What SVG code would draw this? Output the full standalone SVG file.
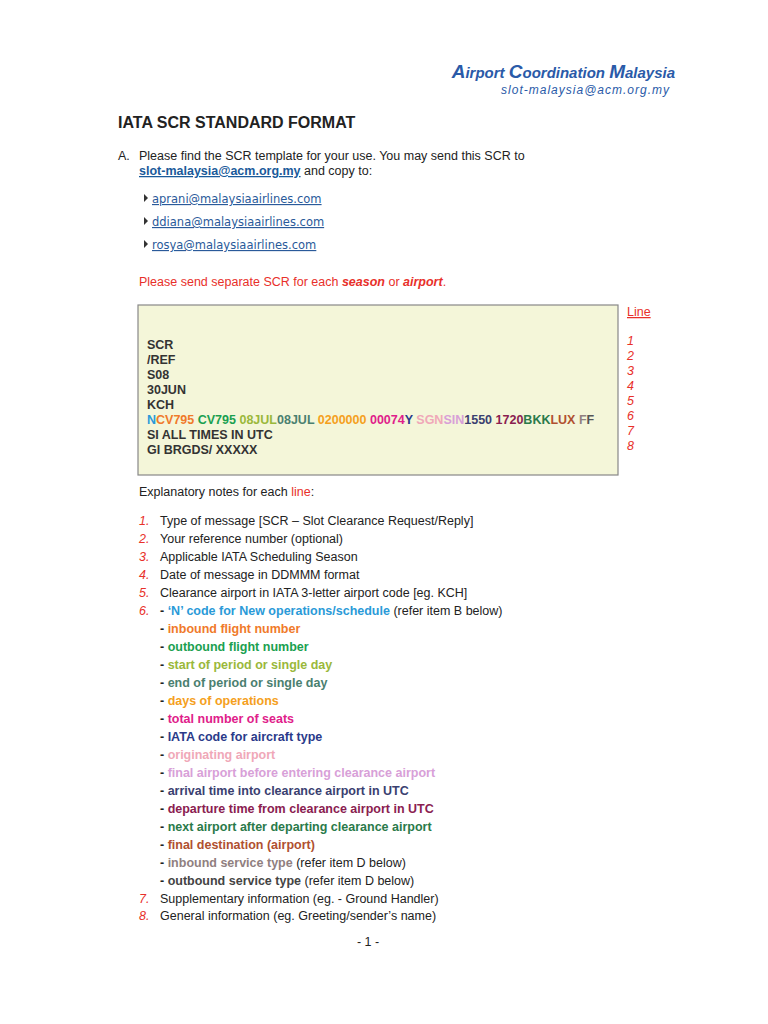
<svg xmlns="http://www.w3.org/2000/svg" width="768" height="1024" viewBox="0 0 768 1024">
<style>
text{font-family:"Liberation Sans",Arial,sans-serif;font-size:12.5px;fill:#222}
.b{font-weight:bold}
.r{fill:#e8302a}
.ri{fill:#e8302a;font-style:italic}
.link{fill:#1a5a9a;text-decoration:underline}
.mono{font-family:"DejaVu Sans",sans-serif;font-size:11.5px;fill:#2a5a9a;text-decoration:underline}
.box text{font-weight:bold;fill:#333}
</style>
<rect width="768" height="1024" fill="#fff"/>
<g id="header">
<text x="675" y="78" text-anchor="end" style="font-size:15px;font-style:italic;font-weight:bold;fill:#2a5aa8"><tspan style="font-size:19px">A</tspan>irport <tspan style="font-size:19px">C</tspan>oordination <tspan style="font-size:19px">M</tspan>alaysia</text>
<text x="670" y="94" text-anchor="end" style="font-size:12px;font-style:italic;fill:#2a5aa8;letter-spacing:1px">slot-malaysia@acm.org.my</text>
</g>
<text x="118" y="128" class="b" style="font-size:16px">IATA SCR STANDARD FORMAT</text>
<text x="118" y="160">A.</text>
<text x="139" y="160">Please find the SCR template for your use. You may send this SCR to</text>
<text x="139" y="175"><tspan class="b link">slot-malaysia@acm.org.my</tspan> and copy to:</text>
<g id="emails">
<path d="M144 194l4 4-4 4z M144 217l4 4-4 4z M144 240l4 4-4 4z" fill="#333"/>
<text x="152" y="203" class="mono">aprani@malaysiaairlines.com</text>
<text x="152" y="226" class="mono">ddiana@malaysiaairlines.com</text>
<text x="152" y="249" class="mono">rosya@malaysiaairlines.com</text>
</g>
<text x="139" y="286" class="r">Please send separate SCR for each <tspan class="b" style="font-style:italic;fill:#e8302a">season</tspan> or <tspan class="b" style="font-style:italic;fill:#e8302a">airport</tspan>.</text>
<g id="scr-box" class="box">
<rect x="138" y="305" width="480" height="170" fill="#f4f6d9" stroke="#888" stroke-width="1.2"/>
<text x="147" y="349">SCR</text>
<text x="147" y="364">/REF</text>
<text x="147" y="379">S08</text>
<text x="147" y="394">30JUN</text>
<text x="147" y="409">KCH</text>
<text x="147" y="424"><tspan style="fill:#2a9ad8">N</tspan><tspan style="fill:#f07a2a">CV795</tspan> <tspan style="fill:#1aa050">CV795</tspan> <tspan style="fill:#9ab83a">08JUL</tspan><tspan style="fill:#4a8070">08JUL</tspan> <tspan style="fill:#f5a020">0200000</tspan> <tspan style="fill:#e0208a">00074</tspan><tspan style="fill:#2a3a8a">Y</tspan> <tspan style="fill:#f0a8b8">SGN</tspan><tspan style="fill:#d8a0d8">SIN</tspan><tspan style="fill:#3a4070">1550</tspan> <tspan style="fill:#8a2050">1720</tspan><tspan style="fill:#2a7a4a">BKK</tspan><tspan style="fill:#b05030">LUX</tspan> <tspan style="fill:#908080">F</tspan><tspan style="fill:#555">F</tspan></text>
<text x="147" y="439">SI ALL TIMES IN UTC</text>
<text x="147" y="454">GI BRGDS/ XXXXX</text>
</g>
<g id="line-numbers">
<text x="627" y="316" class="r" style="text-decoration:underline">Line</text>
<text x="627" y="345" class="ri">1</text>
<text x="627" y="360" class="ri">2</text>
<text x="627" y="375" class="ri">3</text>
<text x="627" y="390" class="ri">4</text>
<text x="627" y="405" class="ri">5</text>
<text x="627" y="420" class="ri">6</text>
<text x="627" y="435" class="ri">7</text>
<text x="627" y="450" class="ri">8</text>
</g>
<text x="139" y="496">Explanatory notes for each <tspan class="r">line</tspan>:</text>
<g id="notes">
<text x="139" y="525" class="ri">1.</text><text x="160" y="525">Type of message [SCR – Slot Clearance Request/Reply]</text>
<text x="139" y="543" class="ri">2.</text><text x="160" y="543">Your reference number (optional)</text>
<text x="139" y="561" class="ri">3.</text><text x="160" y="561">Applicable IATA Scheduling Season</text>
<text x="139" y="579" class="ri">4.</text><text x="160" y="579">Date of message in DDMMM format</text>
<text x="139" y="597" class="ri">5.</text><text x="160" y="597">Clearance airport in IATA 3-letter airport code [eg. KCH]</text>
<text x="139" y="615" class="ri">6.</text><text x="160" y="615" class="b">- <tspan style="fill:#2a9ad8">‘N’ code for New operations/schedule</tspan> <tspan style="font-weight:normal">(refer item B below)</tspan></text>
<text x="160" y="633" class="b">- <tspan style="fill:#f07a2a">inbound flight number</tspan></text>
<text x="160" y="651" class="b">- <tspan style="fill:#1aa050">outbound flight number</tspan></text>
<text x="160" y="669" class="b">- <tspan style="fill:#9ab83a">start of period or single day</tspan></text>
<text x="160" y="687" class="b">- <tspan style="fill:#4a8070">end of period or single day</tspan></text>
<text x="160" y="705" class="b">- <tspan style="fill:#f5a020">days of operations</tspan></text>
<text x="160" y="723" class="b">- <tspan style="fill:#e0208a">total number of seats</tspan></text>
<text x="160" y="741" class="b">- <tspan style="fill:#2a3a8a">IATA code for aircraft type</tspan></text>
<text x="160" y="759" class="b">- <tspan style="fill:#f0a8b8">originating airport</tspan></text>
<text x="160" y="777" class="b">- <tspan style="fill:#d8a0d8">final airport before entering clearance airport</tspan></text>
<text x="160" y="795" class="b">- <tspan style="fill:#3a4070">arrival time into clearance airport in UTC</tspan></text>
<text x="160" y="813" class="b">- <tspan style="fill:#8a2050">departure time from clearance airport in UTC</tspan></text>
<text x="160" y="831" class="b">- <tspan style="fill:#2a7a4a">next airport after departing clearance airport</tspan></text>
<text x="160" y="849" class="b">- <tspan style="fill:#b05030">final destination (airport)</tspan></text>
<text x="160" y="867" class="b">- <tspan style="fill:#908080">inbound service type</tspan> <tspan style="font-weight:normal">(refer item D below)</tspan></text>
<text x="160" y="885" class="b">- <tspan style="fill:#444">outbound service type</tspan> <tspan style="font-weight:normal">(refer item D below)</tspan></text>
<text x="139" y="903" class="ri">7.</text><text x="160" y="903">Supplementary information (eg. - Ground Handler)</text>
<text x="139" y="920" class="ri">8.</text><text x="160" y="920">General information (eg. Greeting/sender’s name)</text>
</g>
<text x="368" y="946" text-anchor="middle">- 1 -</text>
</svg>
